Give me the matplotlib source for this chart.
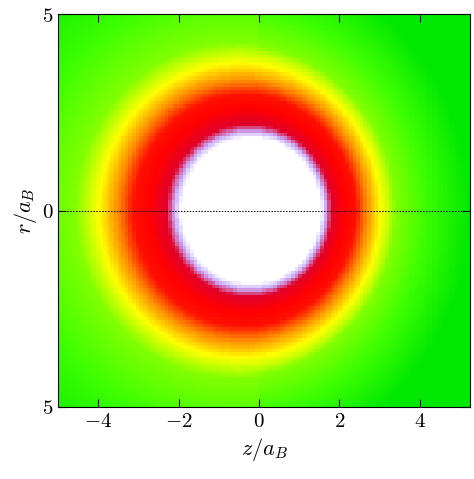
import numpy as np
import matplotlib
matplotlib.use("Agg")
import matplotlib.pyplot as plt
from matplotlib.colors import LinearSegmentedColormap

plt.rcParams['mathtext.fontset'] = 'cm'
plt.rcParams['font.family'] = 'DejaVu Serif'

# ring geometry
z_center_inner = -0.2
center_shift = 0.15   # centre moves left per unit distance beyond inner radius
inner_radius = 1.9
z_scale = 1.07
z_range = [-5.0, 5.25]
r_range = [-5.0, 5.0]
# colour stops: (distance, colour)
stops_d = [0.0, 1.85, 2.0, 2.2, 2.6, 2.95, 3.3, 3.75, 4.3, 5.5, 7.5]
stops_c = ['#ffffff', '#ffffff', '#c8b0ff', '#e0002a', '#ff0000', '#ff1000',
           '#ff8800', '#ffff00', '#80ff00', '#40ff00', '#00e800']
xticks = [-4, -2, 0, 2, 4]
xticklabels = ['$-4$', '$-2$', '$0$', '$2$', '$4$']
yticks = [-5, 0, 5]
yticklabels = ['$5$', '$0$', '$5$']

z = np.linspace(z_range[0], z_range[1], 115)
r = np.linspace(r_range[0], r_range[1], 112)
Z, R = np.meshgrid(z, r)
D = np.sqrt(((Z - z_center_inner) * z_scale) ** 2 + R ** 2)
for _ in range(4):
    zc = z_center_inner - center_shift * np.maximum(D - inner_radius, 0)
    D = np.sqrt(((Z - zc) * z_scale) ** 2 + R ** 2)
D = D + 0.35 * np.maximum(D - 4.0, 0) * (Z > 0)

dmax = stops_d[-1]
cmap = LinearSegmentedColormap.from_list('ring', [(d / dmax, c) for d, c in zip(stops_d, stops_c)])

fig = plt.figure(figsize=(4.74, 4.79), dpi=100)
ax = fig.add_axes([58/474, 72/479, 412/474, 393/479])
ax.pcolormesh(Z, R, np.clip(D, 0, dmax), cmap=cmap, vmin=0, vmax=dmax, shading='nearest')
ax.axhline(0, color='black', lw=0.7, ls=(0, (1.5, 1.5)))
ax.set_xlim(z_range)
ax.set_ylim(r_range)
ax.set_xticks(xticks)
ax.set_xticklabels(xticklabels)
ax.set_yticks(yticks)
ax.set_yticklabels(yticklabels)
ax.tick_params(direction='in', top=True, right=True, labelsize=15, length=6)
ax.set_xlabel(r'$z/a_B$', fontsize=16)
ax.set_ylabel(r'$r/a_B$', fontsize=16, labelpad=2)
fig.savefig('out.png', dpi=100)
